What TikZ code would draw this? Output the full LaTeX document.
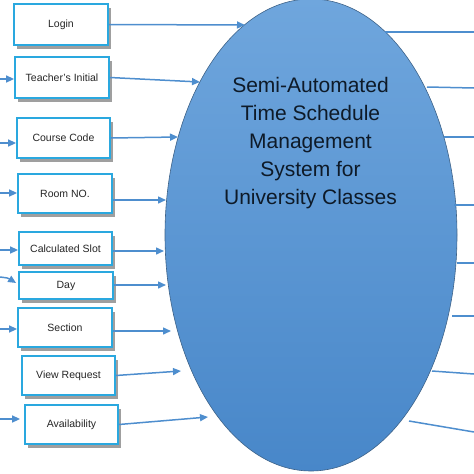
\documentclass[tikz,border=0pt]{standalone}
\usepackage{fontspec}
\setmainfont{Liberation Sans}
\usetikzlibrary{shapes.geometric,arrows.meta,shadows}
\definecolor{boxline}{HTML}{2AA8DF}
\definecolor{arrowc}{HTML}{4E8ECE}
\definecolor{elltop}{HTML}{6FA6DD}
\definecolor{ellbot}{HTML}{4887C9}
\definecolor{ellline}{HTML}{3D6288}
\definecolor{txtc}{HTML}{0E1A28}
\tikzset{
  inbox/.style={draw=boxline, line width=1.8pt, fill=white, inner sep=0pt,
    font=\fontsize{10.5}{12}\selectfont, text=black!85,
    drop shadow={shadow xshift=3pt, shadow yshift=-3.5pt, fill=gray!75, opacity=1}},
  arr/.style={draw=arrowc, line width=1.5pt, -{Triangle[length=8pt,width=7pt]}},
  outline/.style={draw=arrowc, line width=1.5pt},
}
\begin{document}
\begin{tikzpicture}[x=1pt,y=-1pt]
\useasboundingbox (0,0) rectangle (474,474);
% central ellipse
\node[ellipse, minimum width=292pt, minimum height=472pt, inner sep=0pt,
  top color=elltop, bottom color=ellbot, draw=ellline, line width=0.6pt] (ell) at (311,235) {};
\node[align=center, text=txtc, font=\fontsize{21}{28}\selectfont] (title) at (310.5,143)
  {Semi-Automated\\Time Schedule\\Management\\System for\\University Classes};
% boxes
\node[inbox, minimum width=94pt, minimum height=41pt] (lg) at (61,24.5) {Login};
\node[inbox, minimum width=94pt, minimum height=41pt] (tc) at (62,77.5) {Teacher’s Initial};
\node[inbox, minimum width=93pt, minimum height=40pt] (cc) at (63.5,138) {Course Code};
\node[inbox, minimum width=94pt, minimum height=39pt] (rn) at (65,193.5) {Room NO.};
\node[inbox, minimum width=93pt, minimum height=33pt] (cs) at (65.5,248.5) {Calculated Slot};
\node[inbox, minimum width=94pt, minimum height=27pt] (dy) at (66,285.5) {Day};
\node[inbox, minimum width=94pt, minimum height=39pt] (sc) at (65,327.5) {Section};
\node[inbox, minimum width=93pt, minimum height=39pt] (vr) at (68.5,375.5) {View Request};
\node[inbox, minimum width=93pt, minimum height=39pt] (av) at (71.5,424.5) {Availability};
% arrow tips at the ellipse
\coordinate (tLg) at (245,25);
\coordinate (tTc) at (200,82);
\coordinate (tCc) at (178,137);
\coordinate (tRn) at (166,200);
\coordinate (tCs) at (164,251);
\coordinate (tDy) at (166,285);
\coordinate (tSc) at (171,331);
\coordinate (tVr) at (181,371);
\coordinate (tAv) at (208,417);
\draw[arr] (lg.east) -- (tLg);
\draw[arr] (tc.east) -- (tTc);
\draw[arr] (cc.east) -- (tCc);
\draw[arr] (rn.east |- tRn) -- (tRn);
\draw[arr] (cs.east |- tCs) -- (tCs);
\draw[arr] (dy.east |- tDy) -- (tDy);
\draw[arr] (sc.east |- tSc) -- (tSc);
\draw[arr] (vr.east) -- (tVr);
\draw[arr] (av.east) -- (tAv);
% incoming arrows from the left edge
\coordinate (iTc) at (0,79);
\coordinate (iCc) at (0,143);
\coordinate (iRn) at (0,193);
\coordinate (iCs) at (0,250);
\coordinate (iDy) at (0,277);
\coordinate (iSc) at (0,329);
\coordinate (iAv) at (0,419);
\draw[arr] (iTc) -- (tc.west |- iTc);
\draw[arr] (iCc) -- (cc.west |- iCc);
\draw[arr] (iRn) -- (rn.west |- iRn);
\draw[arr] (iCs) -- (cs.west |- iCs);
\draw[arr] (iDy) .. controls (8,278) .. ([xshift=-2pt,yshift=2.5pt]dy.west);
\draw[arr] (iSc) -- (sc.west |- iSc);
\draw[arr] (iAv) -- ([xshift=-4pt]av.west |- iAv);
% outgoing lines on the right
\coordinate (o1) at (474,32);
\coordinate (o2) at (474,88);
\coordinate (o3) at (474,137);
\coordinate (o4) at (474,205);
\coordinate (o5) at (474,263);
\coordinate (o6) at (474,316);
\coordinate (o7) at (474,374);
\coordinate (o8) at (474,432);
\coordinate (s1) at (385,32);
\coordinate (s2) at (427,87);
\coordinate (s3) at (444,137);
\coordinate (s4) at (454,205);
\coordinate (s5) at (457,263);
\coordinate (s6) at (452,316);
\coordinate (s7) at (432,371);
\coordinate (s8) at (409,421);
\foreach \i in {1,...,8} {\draw[outline] (s\i) -- (o\i);}
\end{tikzpicture}
\end{document}
